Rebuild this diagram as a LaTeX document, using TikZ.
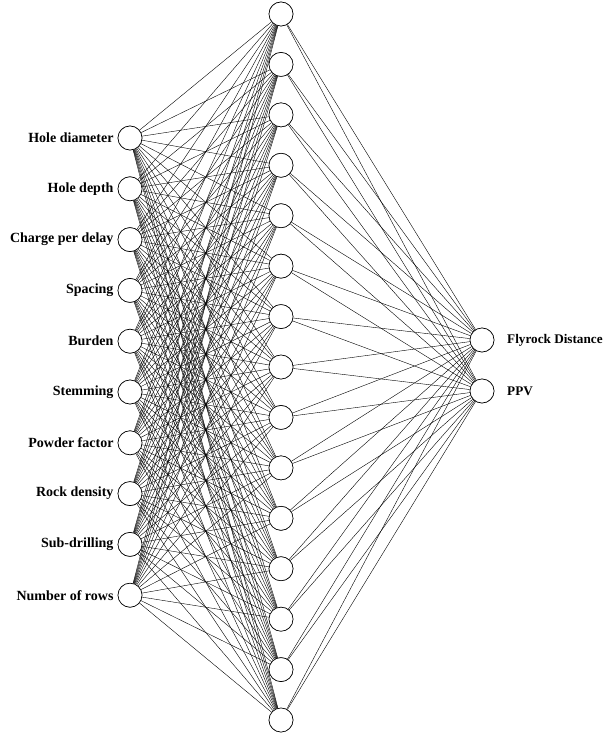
\documentclass[tikz,border=0pt]{standalone}
\usepackage{fontspec}
\setmainfont{Liberation Serif}
\begin{document}
\begin{tikzpicture}[x=1pt,y=-1pt,
  neuron/.style={circle,draw,fill=white,minimum size=24pt,inner sep=0pt,line width=0.6pt},
  lbl/.style={font=\fontsize{14}{16}\selectfont\bfseries},
  olbl/.style={font=\fontsize{13.2}{16}\selectfont\bfseries,inner sep=1pt},
  conn/.style={line width=0.4pt}]
\useasboundingbox (0,0) rectangle (609,735);
\foreach \t [count=\i] in {Hole diameter,Hole depth,Charge per delay,Spacing,Burden,Stemming,Powder factor,Rock density,Sub-drilling,Number of rows}{
  \node[neuron] (i\i) at (130,{138+(\i-1)*50.8}) {};
  \node[lbl,anchor=east] (li\i) at (117,{138+(\i-1)*50.8}) {\t};
}
\foreach \j in {1,...,15}{
  \node[neuron] (h\j) at (281,{14+(\j-1)*50.43}) {};
}
\node[neuron] (o1) at (482,340) {};
\node[neuron] (o2) at (482,391) {};
\node[olbl,anchor=west] (lo1) at (506,340) {Flyrock Distance};
\node[olbl,anchor=west] (lo2) at (506,391) {PPV};
\foreach \i in {1,...,10}{\foreach \j in {1,...,15}{\draw[conn] (i\i) -- (h\j);}}
\foreach \j in {1,...,15}{\draw[conn] (h\j) -- (o1); \draw[conn] (h\j) -- (o2);}
\foreach \i in {1,...,10}{\node[neuron] at (i\i) {};}
\foreach \j in {1,...,15}{\node[neuron] at (h\j) {};}
\node[neuron] at (o1) {};
\node[neuron] at (o2) {};
\end{tikzpicture}
\end{document}
